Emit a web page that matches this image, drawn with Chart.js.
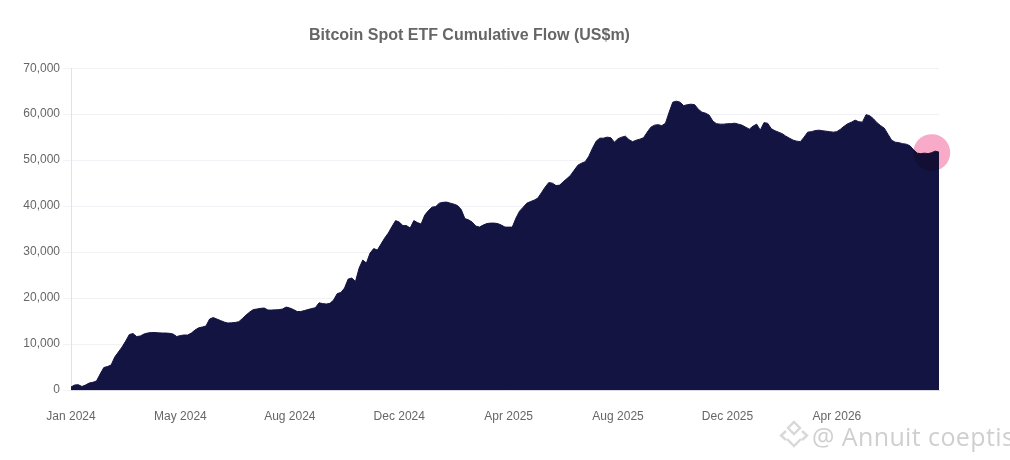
<!DOCTYPE html>
<html>
<head>
<meta charset="utf-8">
<title>Bitcoin Spot ETF Cumulative Flow</title>
<script src="https://cdn.jsdelivr.net/npm/chart.js@4"></script>
<style>
    html, body { margin: 0; background: #fff; width: 1010px; height: 460px; overflow: hidden; }
    #flowChart { position: absolute; left: 0; top: 0; }
    .watermark {
        position: absolute; left: 812px; top: 419px; white-space: nowrap;
        font: 25px "Open Sans", sans-serif; letter-spacing: 0.4px; color: #cfcfcf;
    }
    .wm-logo { position: absolute; left: 779px; top: 420px; }
</style>
</head>
<body>
<canvas id="flowChart" width="960" height="460"></canvas>
<svg class="wm-logo" width="30" height="30" viewBox="0 0 30 30" fill="none" stroke="#d8d8d8" stroke-width="2.4">
    <path d="M15 2 L21 8 L15 14 L9 8 Z"/>
    <path d="M7 11 L2 15.5 L7 20"/>
    <path d="M23 11 L28 15.5 L23 20"/>
    <path d="M8 19 L15 26 L22 19"/>
</svg>
<div class="watermark">@ Annuit coeptis</div>

<script>
const chartTitle = 'Bitcoin Spot ETF Cumulative Flow (US$m)';
const tickLabels = ['Jan 2024', 'May 2024', 'Aug 2024', 'Dec 2024', 'Apr 2025', 'Aug 2025', 'Dec 2025', 'Apr 2026'];
const yTicks = [0, 10000, 20000, 30000, 40000, 50000, 60000, 70000];

const flow2024 = [
    650, 1090, 1150, 760, 1090, 1520, 1670, 1960, 3480, 4890,
    5110, 5430, 7170, 8260, 9350, 10650, 12070, 12280, 11630, 11740,
    12170, 12390, 12500, 12500, 12430, 12390, 12390, 12330, 12170, 11630,
    11850, 11960, 11960, 12390, 13040, 13520, 13700, 13910, 15430, 15760,
    15430, 15110, 14780, 14570, 14610, 14700, 14850, 15540, 16300, 16960,
    17500, 17610, 17760, 17830, 17390, 17390, 17430, 17480, 17610, 18040,
    17830, 17500, 17070, 17070, 17280, 17500, 17720, 17890, 18960, 18800,
    18700, 18850, 19570, 20980, 21200, 22170, 24130, 24350, 23590, 26520,
    28260, 27610, 29780, 30760, 30430, 31740, 33040, 34130, 35540, 36850
];
const flow2025 = [
    36520, 35760, 35760, 35220, 36850, 36410, 36090, 38040, 39020, 39780,
    39890, 40650, 40830, 40870, 40650, 40430, 40110, 39240, 37280, 37020,
    36520, 35650, 35430, 35870, 36200, 36300, 36300, 36200, 35870, 35430,
    35430, 35430, 37390, 38910, 39780, 40650, 40980, 41300, 41740, 42930,
    44130, 45110, 45000, 44460, 44570, 45330, 45980, 46740, 47830, 48910,
    49350, 49670, 50870, 52610, 54130, 54780, 54780, 55000, 54890, 53910,
    54670, 55000, 55220, 54460, 54020, 54350, 54570, 54890, 56090, 57170,
    57610, 57720, 57500, 58040, 60430, 62610, 62830, 62610, 61850, 62070,
    62170, 62070, 61090, 60430, 60220, 59780, 58480, 57930, 57830, 57830
];
const flow2026 = [
    57930, 57930, 58040, 57830, 57610, 57170, 56740, 57390, 57830, 56520,
    58150, 58040, 56850, 56410, 56090, 55760, 55220, 54780, 54350, 54130,
    54020, 55000, 56090, 56200, 56410, 56520, 56410, 56300, 56200, 56090,
    56200, 56740, 57390, 57930, 58260, 58700, 58370, 58260, 59890, 59670,
    59020, 58150, 57500, 56960, 55650, 54350, 53910, 53800, 53590, 53480,
    53150, 52280, 51520, 51410, 51520, 51410, 51630, 51960, 51740
];
const flowValues = [...flow2024, ...flow2025, ...flow2026];
const categories = flowValues.map((v, i) => i);

// big pink marker near the end of the series
const markerIndex = 236;
const markerValues = flowValues.map((v, i) => (i === markerIndex ? 51630 : null));

const markerBlend = {
    id: 'markerBlend',
    beforeDatasetDraw(chart, args) {
        if (args.index === 0) chart.ctx.globalCompositeOperation = 'multiply';
    },
    afterDatasetDraw(chart, args) {
        if (args.index === 0) chart.ctx.globalCompositeOperation = 'source-over';
    }
};

new Chart(document.getElementById('flowChart'), {
    type: 'line',
    plugins: [markerBlend],
    data: {
        labels: categories,
        datasets: [
            {
                data: markerValues,
                showLine: false,
                clip: false,
                pointRadius: 18.5,
                pointBorderWidth: 0,
                pointBackgroundColor: '#f7abc8'
            },
            {
                data: flowValues,
                fill: 'origin',
                backgroundColor: '#131442',
                borderColor: '#131442',
                borderWidth: 1,
                pointRadius: 0,
                tension: 0
            }
        ]
    },
    options: {
        responsive: false,
        animation: false,
        layout: { padding: { right: 21 } },
        plugins: {
            legend: { display: false },
            tooltip: { enabled: false },
            title: {
                display: true,
                text: chartTitle,
                color: '#666',
                font: { family: '"Liberation Sans", Arial, sans-serif', size: 16, weight: 'bold' },
                padding: { top: 26, bottom: 23 }
            }
        },
        scales: {
            x: {
                afterFit: (scale) => { scale.height = 70; },
                grid: { display: false },
                border: { color: '#d9d9e3' },
                ticks: {
                    autoSkip: false,
                    maxRotation: 0,
                    padding: 11,
                    color: '#666',
                    font: { family: '"Liberation Sans", Arial, sans-serif', size: 12 },
                    callback: (value, index) => tickLabels[index / 30]
                }
            },
            y: {
                min: yTicks[0],
                max: yTicks[yTicks.length - 1],
                afterFit: (scale) => { scale.width = 71; },
                grid: { color: '#f1f1f6' },
                border: { color: '#e2e2e6' },
                ticks: {
                    stepSize: yTicks[1] - yTicks[0],
                    color: '#666',
                    font: { family: '"Liberation Sans", Arial, sans-serif', size: 12 },
                    callback: (value) => value.toLocaleString('en-US')
                }
            }
        }
    }
});
</script>
</body>
</html>
